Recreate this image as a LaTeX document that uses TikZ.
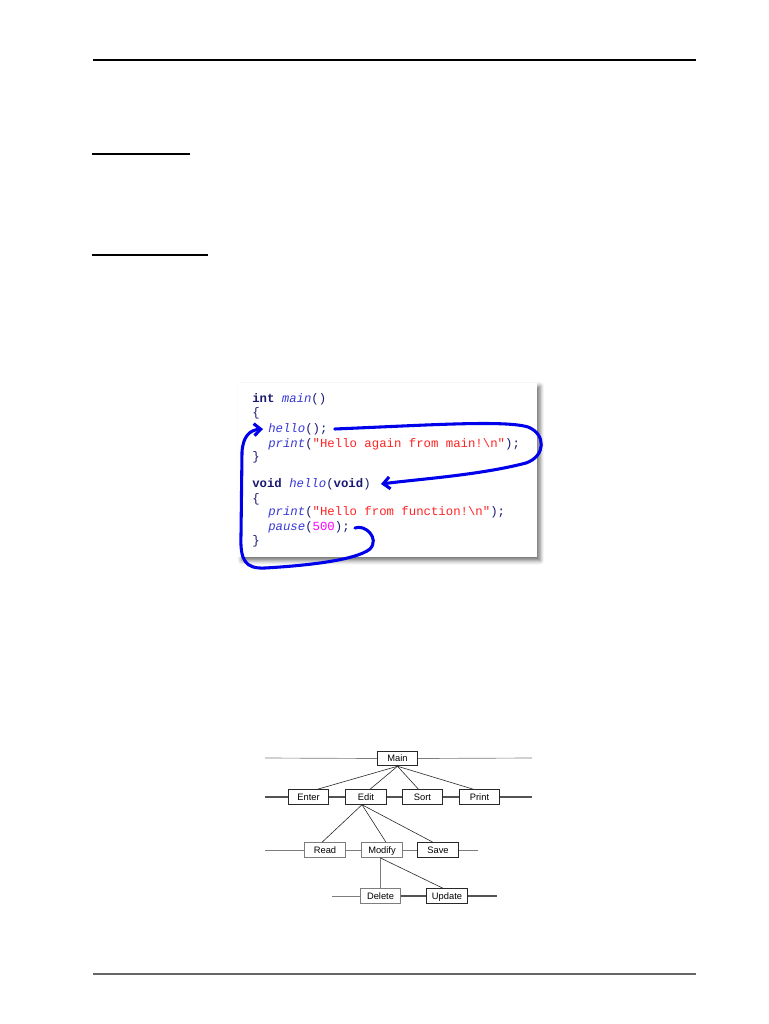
\documentclass[tikz,border=0pt]{standalone}
\usepackage{fontspec}
\setmainfont{Liberation Sans}
\setmonofont{Liberation Mono}
\usetikzlibrary{positioning, calc, arrows.meta, shadows.blur}

\definecolor{kwnavy}{RGB}{25,25,115}
\definecolor{fnblue}{RGB}{55,55,215}
\definecolor{strred}{RGB}{255,35,35}
\definecolor{nummag}{RGB}{255,0,255}
\definecolor{penblue}{RGB}{0,0,235}
\definecolor{boxdark}{RGB}{40,40,40}
\definecolor{boxlight}{RGB}{125,125,125}

\newcommand{\ckw}[1]{{\bfseries\color{kwnavy}#1}}
\newcommand{\cfn}[1]{{\itshape\color{fnblue}#1}}
\newcommand{\cpun}[1]{{\color{kwnavy}#1}}
\newcommand{\cstr}[1]{{\color{strred}#1}}
\newcommand{\cnum}[1]{{\color{nummag}#1}}

\tikzset{
    unit/.style={draw=boxdark, fill=white, line width=0.6pt, minimum width=30.5pt,
        minimum height=11pt, inner sep=0pt, text height=5.4pt, text depth=0.6pt,
        font=\fontsize{7}{8}\selectfont},
    unitlight/.style={unit, draw=boxlight},
    codeline/.style={anchor=west, inner sep=0pt, font=\ttfamily\fontsize{9.25}{11}\selectfont},
    codebox/.style={fill=white, minimum width=224pt, minimum height=131pt, inner sep=0pt,
        blur shadow={shadow xshift=2.5pt, shadow yshift=-2.5pt, shadow blur radius=3pt, shadow opacity=55}},
    pen/.style={draw=penblue, line width=2.3pt, line cap=round, line join=round},
    rail/.style={draw=boxlight, line width=0.5pt},
    railbold/.style={draw=boxdark!80, line width=0.9pt},
    link/.style={draw=boxdark, line width=0.45pt},
    linklight/.style={draw=boxlight, line width=0.5pt}
}

\begin{document}
\begin{tikzpicture}[x=0.75pt, y=-0.75pt]
    \useasboundingbox (0, 0) rectangle (768, 1024);

    \draw[line width=1.2pt] (93, 60) -- (696, 60);
    \draw[line width=1.6pt] (92, 154) -- (190, 154);
    \draw[line width=1.1pt] (92, 255) -- (208, 255);
    \draw[line width=1.6pt, black!60] (93, 974) -- (696, 974);

    \path (387.5, 470) node[codebox] (Code) {};
    \path (252, 399) node[codeline] (MainHead) {\ckw{int} \cfn{main}\cpun{()}};
    \path (252, 413) node[codeline] (MainOpen) {\cpun{\{}};
    \path (268, 429) node[codeline] (HelloCall) {\cfn{hello}\cpun{();}};
    \path (268, 444) node[codeline] (PrintMain) {\cfn{print}\cpun{(}\cstr{"Hello again from main!\textbackslash n"}\cpun{);}};
    \path (252, 457) node[codeline] (MainClose) {\cpun{\}}};
    \path (252, 484) node[codeline] (HelloHead) {\ckw{void} \cfn{hello}\cpun{(}\ckw{void}\cpun{)}};
    \path (252, 499) node[codeline] (HelloOpen) {\cpun{\{}};
    \path (268, 512) node[codeline] (PrintHello) {\cfn{print}\cpun{(}\cstr{"Hello from function!\textbackslash n"}\cpun{);}};
    \path (268, 527) node[codeline] (PauseCall) {\cfn{pause}\cpun{(}\cnum{500}\cpun{);}};
    \path (252, 541) node[codeline] (HelloClose) {\cpun{\}}};

    \draw[pen, -{Straight Barb[length=5pt, width=9pt, line width=2.3pt]}]
        ($(HelloCall.east) + (7, 0)$) .. controls (430, 425) and (505, 420) .. (528, 427)
        .. controls (546, 434) and (546, 456) .. (526, 463)
        .. controls (480, 475) and (420, 479) .. ($(HelloHead.east) + (10, 0)$);
    \draw[pen, -{Straight Barb[length=5pt, width=9pt, line width=2.3pt]}]
        ($(PauseCall.east) + (5, 1)$) .. controls (365, 524) and (380, 538) .. (370, 549)
        .. controls (355, 561) and (300, 566) .. (265, 568)
        .. controls (245, 569) and (240, 560) .. (241, 535)
        -- (242, 452) .. controls (243, 436) and (250, 430) .. ($(HelloCall.west) + (-5, 0)$);

    \coordinate (RowOneL) at (265, 758);
    \coordinate (RowOneR) at (532, 758);
    \coordinate (RowTwoL) at (265, 797);
    \coordinate (RowTwoR) at (532, 797);
    \coordinate (RowThreeL) at (265, 850);
    \coordinate (RowThreeR) at (478, 850);
    \coordinate (RowFourL) at (332, 896);
    \coordinate (RowFourR) at (497, 896);

    \path (397.5, 758.5) node[unit] (Main) {Main};
    \path (308.5, 797) node[unit] (Enter) {Enter};
    \path (366, 797) node[unit] (Edit) {Edit};
    \path (422.5, 797) node[unit] (Sort) {Sort};
    \path (479.5, 797) node[unit] (Print) {Print};
    \path (325, 850) node[unitlight] (Read) {Read};
    \path (382, 850) node[unitlight] (Modify) {Modify};
    \path (438, 850) node[unit] (Save) {Save};
    \path (380.5, 896) node[unitlight] (Delete) {Delete};
    \path (447, 896) node[unit] (Update) {Update};

    \draw[rail] (RowOneL) -- (Main.west);
    \draw[rail] (Main.east) -- (RowOneR);
    \draw[railbold] (RowTwoL) -- (Enter.west);
    \draw[railbold] (Enter.east) -- (Edit.west);
    \draw[railbold] (Edit.east) -- (Sort.west);
    \draw[railbold] (Sort.east) -- (Print.west);
    \draw[railbold] (Print.east) -- (RowTwoR);
    \draw[rail] (RowThreeL) -- (Read.west);
    \draw[rail] (Read.east) -- (Modify.west);
    \draw[rail] (Modify.east) -- (Save.west);
    \draw[rail] (Save.east) -- (RowThreeR);
    \draw[rail] (RowFourL) -- (Delete.west);
    \draw[railbold] (Delete.east) -- (Update.west);
    \draw[railbold] (Update.east) -- (RowFourR);

    \draw[link] (Main.south) -- ($(Enter.north) + (9, 0)$);
    \draw[link] (Main.south) -- ($(Edit.north) + (4, 0)$);
    \draw[link] (Main.south) -- ($(Sort.north) + (-4, 0)$);
    \draw[link] (Main.south) -- ($(Print.north) + (-6, 0)$);
    \draw[link] ($(Edit.south) + (-4, 0)$) -- ($(Read.north) + (-3, 0)$);
    \draw[link] ($(Edit.south) + (-4, 0)$) -- ($(Modify.north) + (4, 0)$);
    \draw[link] ($(Edit.south) + (-4, 0)$) -- ($(Save.north) + (-5, 0)$);
    \draw[linklight] ($(Modify.south) + (-2, 0)$) -- ($(Delete.north) + (-0.5, 0)$);
    \draw[link] ($(Modify.south) + (-2, 0)$) -- ($(Update.north) + (-4, 0)$);
\end{tikzpicture}
\end{document}
